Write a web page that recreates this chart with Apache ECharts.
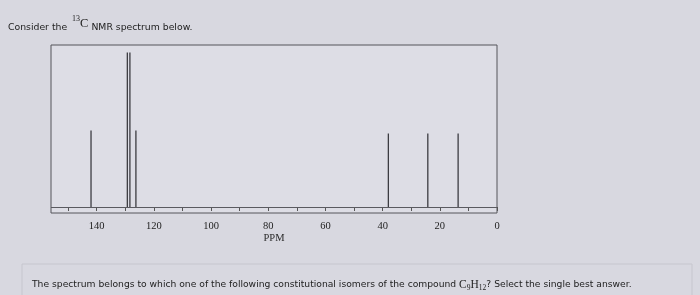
<!DOCTYPE html>
<html>
<head>
<meta charset="utf-8">
<script src="https://cdn.jsdelivr.net/npm/echarts@6/dist/echarts.min.js"></script>
<style>html,body{margin:0;padding:0;background:#d8d8e0;}#c{width:700px;height:295px;}</style>
</head>
<body>
<div id="c"></div>
<script>
// Peak positions (ppm) and relative intensities
var peakPpm = [142.0, 129.3, 128.4, 126.3, 38.0, 24.2, 13.6];
var peakHeight = [51, 103, 103, 51, 49, 49, 49];
var tickLabels = [140, 120, 100, 80, 60, 40, 20, 0];
var axisMax = 156;

var chart = echarts.init(document.getElementById('c'), null, {renderer: 'canvas'});
var peaks = peakPpm.map(function (p, i) { return [p, peakHeight[i]]; });

chart.setOption({
  backgroundColor: '#d8d8e0',
  animation: false,
  grid: {left: 51, right: 203, top: 45, bottom: 82, show: true,
         backgroundColor: '#dddde5', borderColor: '#55555b', borderWidth: 1},
  xAxis: {
    type: 'value', inverse: true, min: 0, max: axisMax, interval: 10,
    name: 'PPM', nameLocation: 'middle', nameGap: 20, nameMoveOverlap: false,
    nameTextStyle: {fontFamily: 'Liberation Serif', fontSize: 10.5, color: '#2a2a2a'},
    axisLine: {show: false},
    axisTick: {show: true, length: 4, lineStyle: {color: '#555'}},
    splitLine: {show: false},
    axisLabel: {
      fontFamily: 'Liberation Serif', fontSize: 10.5, color: '#222', margin: 8,
      showMaxLabel: false,
      formatter: function (v) { return tickLabels.indexOf(v) >= 0 ? String(v) : ''; }
    }
  },
  yAxis: {type: 'value', min: -4, max: 108, show: false},
  series: [
    {
      type: 'custom',
      data: peaks,
      renderItem: function (params, api) {
        var a = api.coord([api.value(0), 0]);
        var b = api.coord([api.value(0), api.value(1)]);
        return {type: 'line', shape: {x1: a[0], y1: a[1], x2: b[0], y2: b[1]},
                style: {stroke: '#3c3c42', lineWidth: 1.3}};
      },
      markLine: {
        silent: true, symbol: 'none', label: {show: false},
        lineStyle: {color: '#5a5a60', type: 'solid', width: 1},
        data: [{yAxis: 0}]
      }
    }
  ],
  graphic: [
    {type: 'text', left: 8, top: 15, style: {
      text: '{a|Consider the }{s|13}{c|C}{a| NMR spectrum below.}',
      rich: {
        a: {fontFamily: 'DejaVu Sans', fontSize: 9.3, fill: '#222', verticalAlign: 'bottom'},
        s: {fontFamily: 'Liberation Serif', fontSize: 8, fill: '#222', padding: [0, 0, 9, 2]},
        c: {fontFamily: 'Liberation Serif', fontSize: 12.5, fill: '#222'}
      }}},
    {type: 'rect', shape: {x: 22, y: 264, width: 670, height: 40},
     style: {fill: 'rgba(0,0,0,0)', stroke: '#c6c6ce', lineWidth: 1}},
    {type: 'text', left: 32, top: 279, style: {
      text: '{a|The spectrum belongs to which one of the following constitutional isomers of the compound }{c|C}{b|9}{c|H}{b|12}{a|? Select the single best answer.}',
      rich: {
        a: {fontFamily: 'DejaVu Sans', fontSize: 9.2, fill: '#222'},
        c: {fontFamily: 'Liberation Serif', fontSize: 11.5, fill: '#222'},
        b: {fontFamily: 'Liberation Serif', fontSize: 7.5, fill: '#222', padding: [6, 0, 0, 0]}
      }}}
  ]
});
</script>
</body>
</html>
